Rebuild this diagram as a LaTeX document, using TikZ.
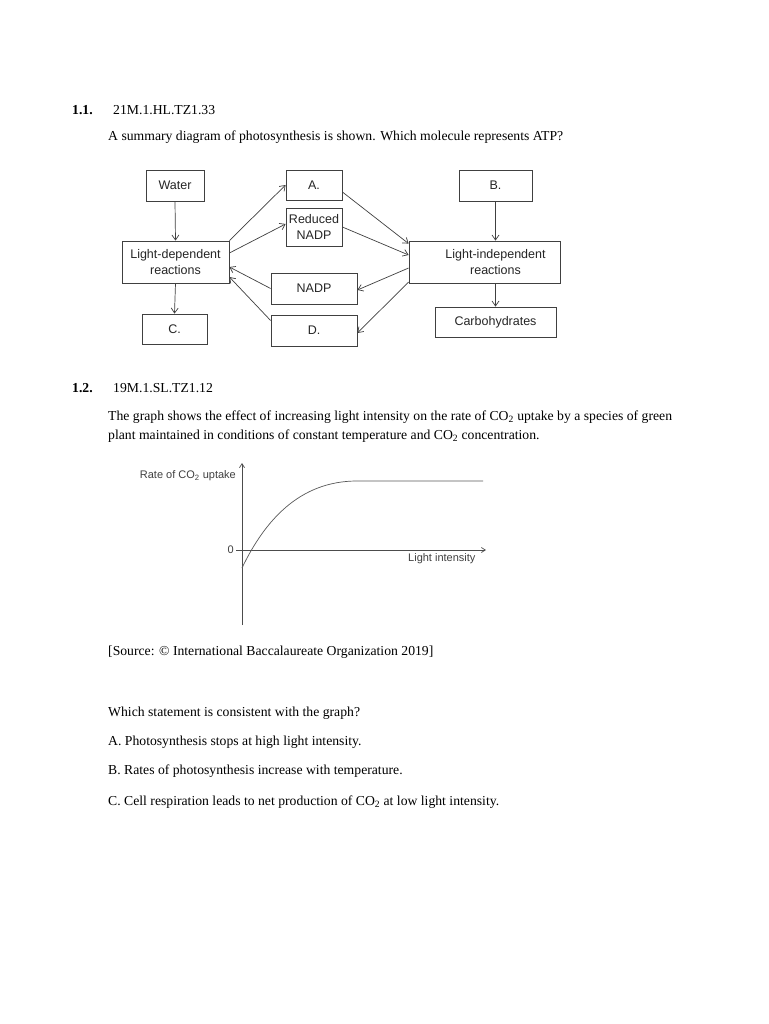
\documentclass[tikz,border=0pt]{standalone}
\usepackage{fontspec}
\setmainfont{Liberation Serif}
\newfontfamily\arialfont{Liberation Sans}
\usetikzlibrary{arrows.meta}
\begin{document}
\begin{tikzpicture}[x=1pt,y=-1pt,
  body/.style={anchor=base west,inner sep=0pt,font=\fontsize{13.7}{16}\selectfont},
  box/.style={draw=black!75,line width=0.8pt,fill=white,align=center,inner sep=1pt,
     font=\arialfont\fontsize{12.5}{16.5}\selectfont,text=black!85},
  arr/.style={draw=black!75,line width=0.7pt,-{Straight Barb[length=5pt,width=7pt]}},
  axis/.style={draw=black!70,line width=0.7pt,-{Straight Barb[length=4pt,width=5pt]}},
  glabel/.style={inner sep=0pt,font=\arialfont\fontsize{11}{13}\selectfont,text=black!75}]
\fill[white] (0,0) rectangle (768,1024);
\useasboundingbox (0,0) rectangle (768,1024);

% ---- question 1.1 ----
\node[body] (q1n) at (72,115) {\textbf{1.1.}};
\node[body] (q1c) at (113,115) {21M.1.HL.TZ1.33};
\node[body] (q1t) at (108,141) {A summary diagram of photosynthesis is shown. Which molecule represents ATP?};

% ---- diagram ----
\node[box,minimum width=58,minimum height=31] (water) at (175,185.5) {Water};
\node[box,minimum width=56,minimum height=30] (A) at (314,185) {A.};
\node[box,minimum width=73,minimum height=31] (B) at (495.5,185.5) {B.};
\node[box,minimum width=56,minimum height=38] (RN) at (314,227) {Reduced\\NADP};
\node[box,minimum width=107,minimum height=42] (LD) at (175.5,262) {Light-dependent\\reactions};
\node[box,minimum width=151,minimum height=42] (LI) at (484.5,262) {\hspace*{22pt}Light-independent\\\hspace*{22pt}reactions};
\node[box,minimum width=86,minimum height=31] (NADP) at (314,288.5) {NADP};
\node[box,minimum width=86,minimum height=31] (D) at (314,330.5) {D.};
\node[box,minimum width=65,minimum height=30] (C) at (174.5,329) {C.};
\node[box,minimum width=121,minimum height=30] (carb) at (495.5,322) {Carbohydrates};

\draw[arr] (water.south) -- (LD.north);
\draw[arr] (LD.south) -- (C.north);
\draw[arr] (B.south) -- (B.south |- LI.north);
\draw[arr] (carb.north |- LI.south) -- (carb.north);
\draw[arr] (LD.north east) -- (A.west);
\draw[arr] ([yshift=9pt]LD.east) -- ([yshift=3pt]RN.west);
\draw[arr] ([yshift=-7pt]A.east) -- ([yshift=-3pt]LI.north west);
\draw[arr] (RN.east) -- ([yshift=7pt]LI.west);
\draw[arr] ([yshift=-6pt]LI.west) -- ([yshift=-1.5pt]NADP.east);
\draw[arr] ([yshift=-20pt]LI.west) -- ([yshift=-2.5pt]D.east);
\draw[arr] (NADP.west) -- ([yshift=-5pt]LD.east);
\draw[arr] ([yshift=10pt]D.west) -- ([yshift=-15pt]LD.east);

% ---- question 1.2 ----
\node[body] (q2n) at (72,392) {\textbf{1.2.}};
\node[body] (q2c) at (113,392) {19M.1.SL.TZ1.12};
\node[body] (q2a) at (108,420) {The graph shows the effect of increasing light intensity on the rate of CO\textsubscript{2} uptake by a species of green};
\node[body] (q2b) at (108,439) {plant maintained in conditions of constant temperature and CO\textsubscript{2} concentration.};

% ---- graph ----
\coordinate (ybot) at (242,625);
\coordinate (ytop) at (242,463);
\coordinate (xl) at (236,550);
\coordinate (xr) at (486,550);
\coordinate (c0) at (242,568);
\coordinate (c1) at (357,481);
\coordinate (c2) at (483,481);
\draw[axis] (ybot) -- (ytop);
\draw[axis] (xl) -- (xr);
\node[glabel,anchor=east] (zero) at (234,550) {0};
\node[glabel,anchor=east] (ylab) at (236,476) {Rate of CO\textsubscript{2} uptake};
\node[glabel,anchor=west] (xlab) at (408,559) {Light intensity};
\draw[draw=black!65,line width=0.7pt] (c0) .. controls (265,520) and (300,481) .. (c1) -- (c2);

% ---- rest ----
\node[body] (src) at (108,655) {[Source: \textcopyright{} International Baccalaureate Organization 2019]};
\node[body] (q) at (108,716) {Which statement is consistent with the graph?};
\node[body] (oa) at (108,745) {A. Photosynthesis stops at high light intensity.};
\node[body] (ob) at (108,774) {B. Rates of photosynthesis increase with temperature.};
\node[body] (oc) at (108,805) {C. Cell respiration leads to net production of CO\textsubscript{2} at low light intensity.};
\end{tikzpicture}
\end{document}
